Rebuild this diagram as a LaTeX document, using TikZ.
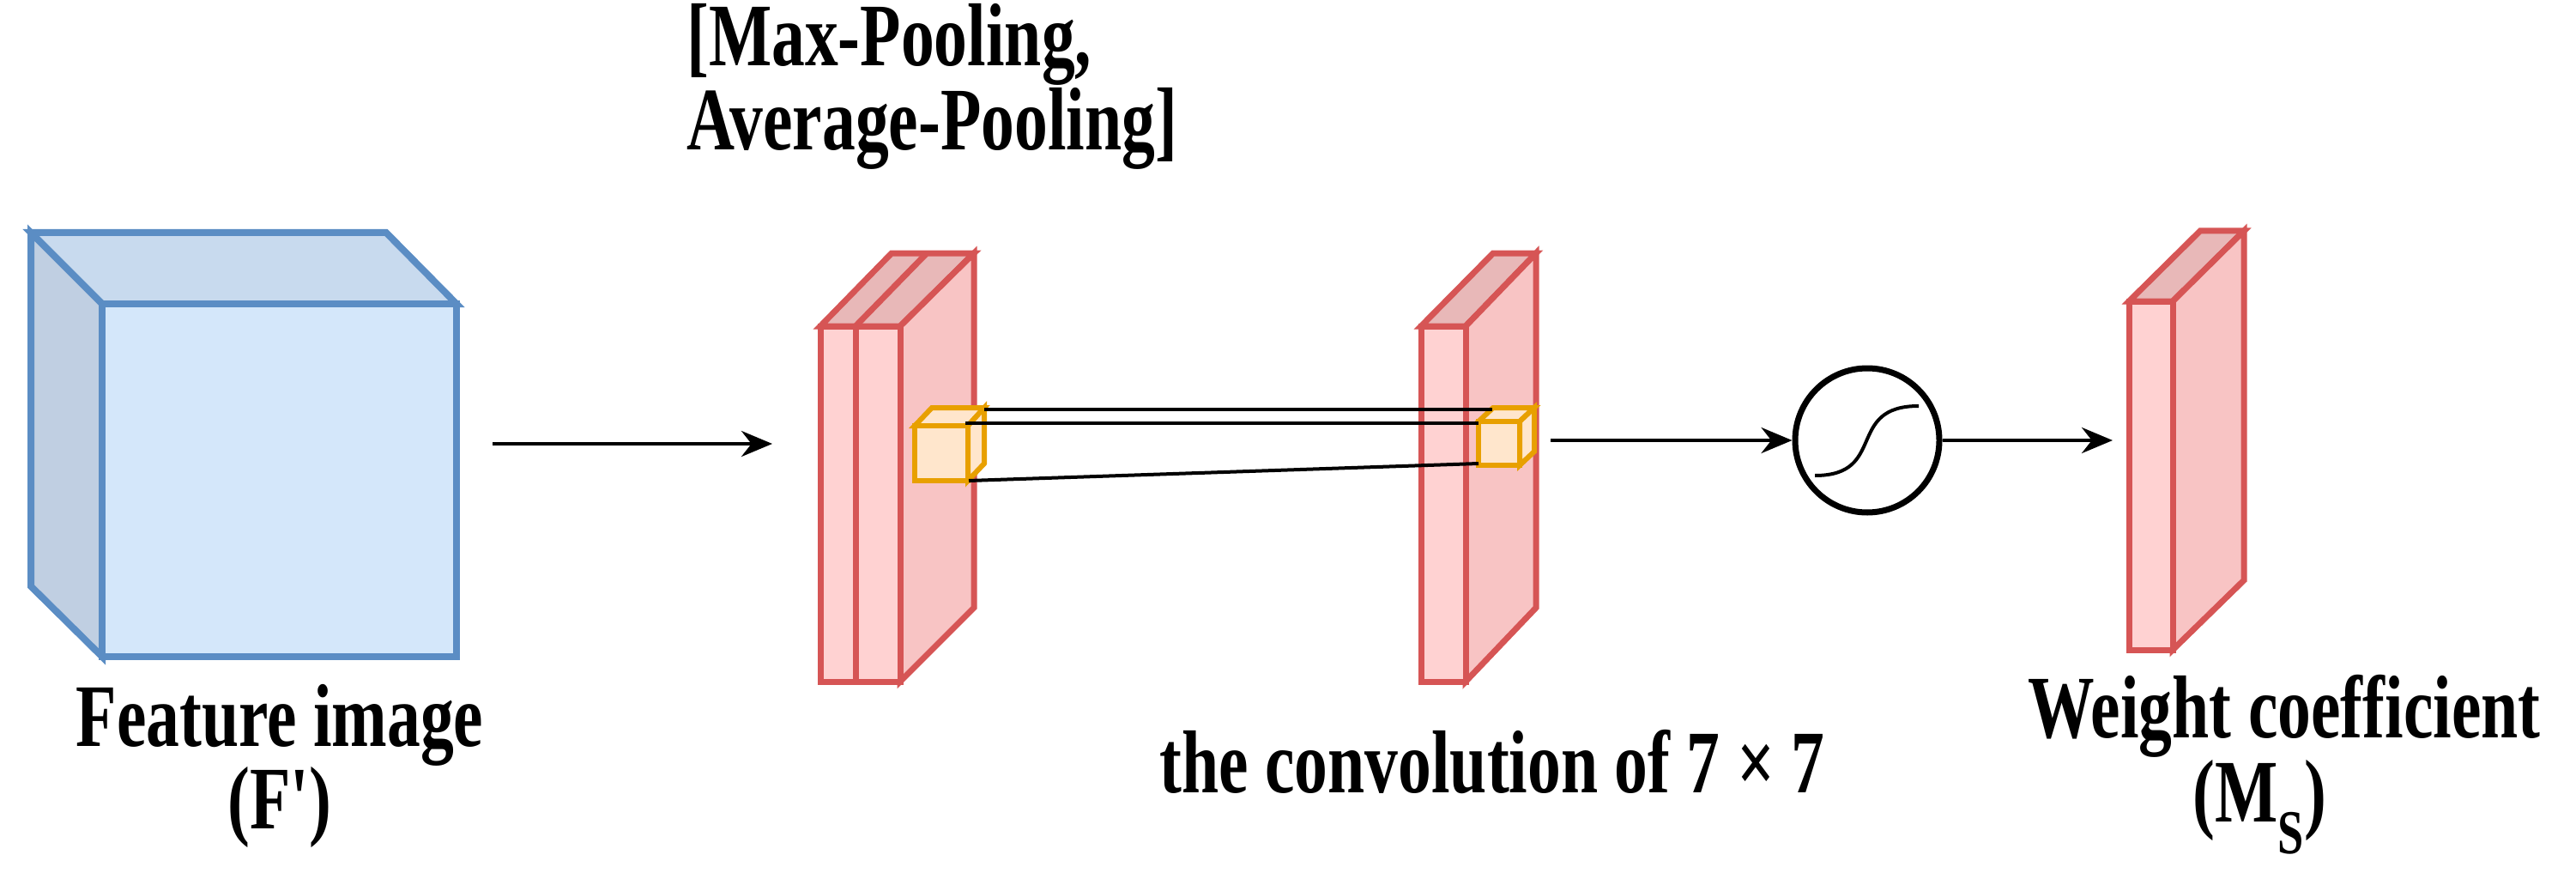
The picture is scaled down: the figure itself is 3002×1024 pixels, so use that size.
\documentclass[tikz,border=0pt]{standalone}
\usepackage{fontspec}
\setmainfont{Liberation Serif}
\usetikzlibrary{arrows.meta}
\definecolor{bstroke}{HTML}{5B8DC4}
\definecolor{bfront}{HTML}{D4E7FA}
\definecolor{btop}{HTML}{C8DAEE}
\definecolor{bside}{HTML}{C0CFE2}
\definecolor{rstroke}{HTML}{D65555}
\definecolor{rfront}{HTML}{FFD2D2}
\definecolor{rside}{HTML}{F8C4C4}
\definecolor{rtop}{HTML}{E8B8B8}
\definecolor{ostroke}{HTML}{E8A000}
\definecolor{ofill}{HTML}{FFE6CC}
\newcommand{\tall}[1]{\scalebox{0.97}[1.3]{#1}}
\tikzset{
 bface/.style={draw=bstroke,line width=8pt,line join=miter},
 rface/.style={draw=rstroke,line width=7pt,line join=miter},
 oface/.style={draw=ostroke,line width=6pt,fill=ofill,line join=miter},
 conn/.style={draw=black,line width=4pt},
 flow/.style={draw=black,line width=4pt,-{Stealth[length=36pt,width=30pt]}},
 lbl/.style={font=\fontsize{80}{90}\selectfont\bfseries,align=center,inner sep=0pt}
}
\begin{document}
\begin{tikzpicture}[x=1pt,y=-1pt]
\useasboundingbox (0,0) rectangle (3002,1024);
% feature cube
\path[bface,fill=btop] (36,271)--(450,271)--(532,354)--(119,354)--cycle;
\path[bface,fill=bside] (36,271)--(119,354)--(119,765)--(36,683)--cycle;
\path[bface,fill=bfront] (119,354) rectangle (532,765);
% pooling block
\path[rface,fill=rtop] (956,380)--(1049,380)--(1135,295)--(1039,295)--cycle;
\draw[rface] (997,380)--(1080,295);
\path[rface,fill=rside] (1049,380)--(1135,295)--(1135,708)--(1049,794)--cycle;
\path[rface,fill=rfront] (956,380) rectangle (1049,794);
\draw[rface] (997,380)--(997,794);
% conv slab
\path[rface,fill=rtop] (1656,380)--(1708,380)--(1790,295)--(1740,295)--cycle;
\path[rface,fill=rside] (1708,380)--(1790,295)--(1790,708)--(1708,794)--cycle;
\path[rface,fill=rfront] (1656,380) rectangle (1708,794);
% output slab
\path[rface,fill=rtop] (2481,351)--(2532,351)--(2615,269)--(2564,269)--cycle;
\path[rface,fill=rside] (2532,351)--(2615,269)--(2615,676)--(2532,757)--cycle;
\path[rface,fill=rfront] (2481,351) rectangle (2532,757);
% orange cubes
\path[oface] (1066,496)--(1086,475)--(1147,475)--(1128,496)--cycle;
\path[oface] (1128,496)--(1147,475)--(1147,540)--(1128,560)--cycle;
\path[oface] (1066,496) rectangle (1128,560);
\path[oface] (1723,491)--(1740,475)--(1788,475)--(1771,491)--cycle;
\path[oface] (1771,491)--(1788,475)--(1788,526)--(1771,542)--cycle;
\path[oface] (1723,491) rectangle (1771,542);
% named anchors
\coordinate (a1) at (1147,477); \coordinate (b1) at (1739,477);
\coordinate (a2) at (1125,493); \coordinate (b2) at (1723,493);
\coordinate (a3) at (1129,560); \coordinate (b3) at (1723,540);
\draw[conn] (a1)--(b1);
\draw[conn] (a2)--(b2);
\draw[conn] (a3)--(b3);
\coordinate (cubeR) at (574,517); \coordinate (poolL) at (900,517);
\coordinate (convR) at (1807,513);
\node[circle,draw=black,line width=7pt,minimum size=168pt,inner sep=0pt] (sig) at (2176,513) {};
\coordinate (outL) at (2462,513);
\draw[flow] (cubeR)--(poolL);
\draw[flow] (convR)--(sig.west);
\draw[flow] (sig.east)--(outL);
\draw[line width=4pt] (2115,554) .. controls (2200,554) and (2150,473) .. (2236,473);
% labels
\node[lbl] (t1) at (326,845) {\tall{Feature image}};
\node[lbl] (t2) at (326,940) {\tall{(F\textquotesingle)}};
\node[lbl,anchor=north west] (t3) at (800,4) {\tall{[Max-Pooling,}};
\node[lbl,anchor=north west] (t3b) at (800,102) {\tall{Average-Pooling]}};
\node[lbl] (t4) at (1739,888) {\tall{the convolution of 7 × 7}};
\node[lbl] (t5) at (2662,834) {\tall{Weight coefficient}};
\node[lbl] (t6) at (2633,940) {\tall{(M\textsubscript{S})}};
\end{tikzpicture}
\end{document}
